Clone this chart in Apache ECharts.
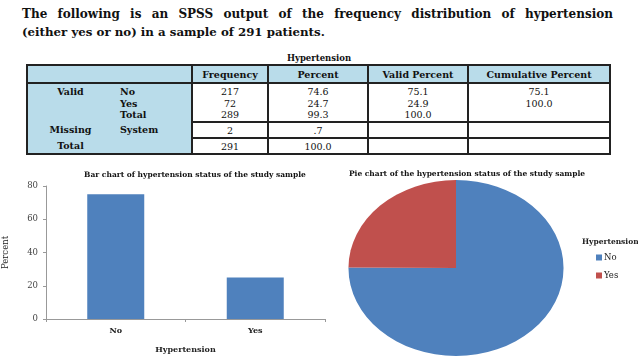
<!DOCTYPE html>
<html>
<head>
<meta charset="utf-8">
<script src="https://cdn.jsdelivr.net/npm/echarts@6/dist/echarts.min.js"></script>
<style>
  html, body { margin: 0; padding: 0; background: #fff; }
  body { width: 638px; height: 359px; position: relative; overflow: hidden; font-family: "DejaVu Serif", serif; color: #111; }
  #h1 { position: absolute; left: 22px; top: 7px; width: 591px; font-weight: bold; font-size: 12px; text-align: justify; text-align-last: justify; white-space: nowrap; }
  #h2 { position: absolute; left: 22px; top: 25px; font-weight: bold; font-size: 11.8px; white-space: nowrap; }
  #cap { position: absolute; left: 0; width: 638px; top: 53px; text-align: center; font-weight: bold; font-size: 8.5px; }
  table { position: absolute; left: 26px; top: 64px; border-collapse: collapse; font-size: 9.5px; }
  td, th { padding: 0; }
  th { background: #b9dcea; font-weight: bold; height: 16px; border: 2px solid #222; }
  .lab { background: #b9dcea; font-weight: bold; vertical-align: top; border-top: none; border-bottom: none; }
  .l1 { text-align: center; border-left: 2px solid #222; }
  .l2 { text-align: left; padding-left: 7px; border-right: 2px solid #222; }
  .v { text-align: center; vertical-align: top; border: 2px solid #222; background: #fff; }
  .multi { line-height: 11.5px; padding-top: 2px; }
  .one { line-height: 13px; padding-top: 1px; }
  tr.last td.lab { border-bottom: 2px solid #222; }
  #chart { position: absolute; left: 0; top: 155px; width: 638px; height: 204px; }
</style>
</head>
<body>
<div id="h1">The following is an SPSS output of the frequency distribution of hypertension</div>
<div id="h2">(either yes or no) in a sample of 291 patients.</div>
<div id="cap">Hypertension</div>
<table id="tbl"></table>
<div id="chart"></div>
<script>
// ---- data ----
var tableHeaders = ['Frequency', 'Percent', 'Valid Percent', 'Cumulative Percent'];
var validLabels = ['No', 'Yes', 'Total'];
var validFrequency = ['217', '72', '289'];
var validPercentCol = ['74.6', '24.7', '99.3'];
var validValidPercent = ['75.1', '24.9', '100.0'];
var validCumulative = ['75.1', '100.0'];
var missingRow = ['2', '.7', '', ''];
var totalRow = ['291', '100.0', '', ''];

var categories = ['No', 'Yes'];
var percentValues = [75.1, 24.9];
var yTicks = [0, 20, 40, 60, 80];
var colors = ['#4f81bd', '#c0504d'];

// ---- table ----
(function () {
  var colW = [86, 79, 76, 100, 100, 142];
  var html = '<colgroup>' + colW.map(function (w) { return '<col style="width:' + w + 'px">'; }).join('') + '</colgroup>';
  html += '<tr><th colspan="2" style="border-right:2px solid #222"></th>' + tableHeaders.map(function (h) { return '<th>' + h + '</th>'; }).join('') + '</tr>';
  html += '<tr style="height:38px"><td class="lab l1 multi">Valid</td><td class="lab l2 multi">' + validLabels.join('<br>') + '</td>' +
    [validFrequency, validPercentCol, validValidPercent, validCumulative].map(function (c) { return '<td class="v multi">' + c.join('<br>') + '</td>'; }).join('') + '</tr>';
  html += '<tr style="height:15px"><td class="lab l1 one">Missing</td><td class="lab l2 one">System</td>' + missingRow.map(function (c) { return '<td class="v one">' + c + '</td>'; }).join('') + '</tr>';
  html += '<tr class="last" style="height:16px"><td class="lab l1 one">Total</td><td class="lab l2 one"></td>' + totalRow.map(function (c) { return '<td class="v one">' + c + '</td>'; }).join('') + '</tr>';
  document.getElementById('tbl').innerHTML = html;
})();

// ---- chart ----
var chart = echarts.init(document.getElementById('chart'));
var total = percentValues.reduce(function (a, b) { return a + b; }, 0);
var pieCx = 456, pieCy = 113, pieR = 88, pieScaleX = 1.222;

function sliceSeries(idx) {
  var start = 0;
  for (var i = 0; i < idx; i++) start += percentValues[i];
  return {
    type: 'custom',
    name: categories[idx],
    coordinateSystem: 'none',
    itemStyle: { color: colors[idx] },
    data: [percentValues[idx]],
    renderItem: function (params, api) {
      var a0 = -Math.PI / 2 + start / total * Math.PI * 2;
      var a1 = a0 + api.value(0) / total * Math.PI * 2;
      return {
        type: 'sector',
        x: pieCx, y: pieCy, scaleX: pieScaleX,
        shape: { cx: 0, cy: 0, r0: 0, r: pieR, startAngle: a0, endAngle: a1, clockwise: true },
        style: { fill: colors[idx] }
      };
    }
  };
}

var serif = 'DejaVu Serif';
chart.setOption({
  animation: false,
  textStyle: { fontFamily: serif },
  title: [
    { text: 'Bar chart of hypertension status of the study sample', left: 190, top: 11, textAlign: 'center',
      textStyle: { fontFamily: serif, fontSize: 7.5, fontWeight: 'bold', color: '#111' } },
    { text: 'Pie chart of the hypertension status of the study sample', left: 462, top: 10, textAlign: 'center',
      textStyle: { fontFamily: serif, fontSize: 7.5, fontWeight: 'bold', color: '#111' } },
    { text: 'Hypertension', left: 577, top: 78,
      textStyle: { fontFamily: serif, fontSize: 7.5, fontWeight: 'bold', color: '#222' } }
  ],
  legend: {
    orient: 'vertical', left: 591, top: 93, icon: 'rect', itemWidth: 6, itemHeight: 6, itemGap: 9,
    data: categories,
    textStyle: { fontFamily: serif, fontSize: 8.5, color: '#222', padding: [0, 0, 0, -3] }
  },
  grid: { left: 45, right: 313, top: 31, bottom: 36 },
  xAxis: {
    type: 'category', data: categories,
    name: 'Hypertension', nameLocation: 'middle', nameGap: 27,
    nameTextStyle: { fontFamily: serif, fontSize: 8, fontWeight: 'bold', color: '#222' },
    axisLine: { lineStyle: { color: '#999' } },
    axisTick: { show: true, length: 3, lineStyle: { color: '#999' } },
    axisLabel: { fontFamily: serif, fontSize: 8, fontWeight: 'bold', color: '#222', margin: 8 }
  },
  yAxis: {
    type: 'value', min: yTicks[0], max: yTicks[yTicks.length - 1], interval: 20,
    name: 'Percent', nameLocation: 'middle', nameGap: 36, nameRotate: 90,
    nameTextStyle: { fontFamily: serif, fontSize: 8.5, color: '#222' },
    axisLine: { show: true, lineStyle: { color: '#999' } },
    axisTick: { show: true, length: 3, lineStyle: { color: '#999' } },
    splitLine: { show: false },
    axisLabel: { fontFamily: serif, fontSize: 8.5, color: '#444', margin: 8 }
  },
  series: [
    { type: 'bar', name: 'Percent', data: percentValues, barWidth: 57, itemStyle: { color: colors[0] }, legendHoverLink: false },
    sliceSeries(0),
    sliceSeries(1)
  ]
});
</script>
</body>
</html>
